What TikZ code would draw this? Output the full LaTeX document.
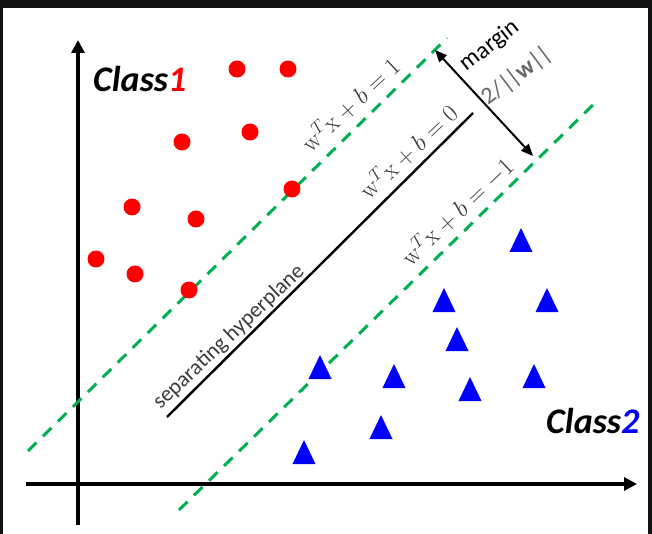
\documentclass[tikz,border=0pt]{standalone}
\usepackage{fontspec}
\setsansfont{Carlito}
\usetikzlibrary{arrows.meta}
\definecolor{dgreen}{RGB}{0,176,80}
\definecolor{dred}{RGB}{255,0,0}
\definecolor{dblue}{RGB}{0,0,255}
\definecolor{eqgrey}{RGB}{60,60,60}
\definecolor{frame}{RGB}{18,18,18}
\newcommand{\dbar}{|\kern-1.5pt|}
\tikzset{
  axis/.style={line width=3.2pt,-{Triangle[width=13pt,length=13pt]}},
  marginline/.style={dgreen,line width=3pt,dash pattern=on 12pt off 9pt},
  hyper/.style={black,line width=2.4pt},
  eqlabel/.style={eqgrey,font=\fontsize{25}{28}\selectfont,inner sep=0pt},
  sanslabel/.style={inner sep=0pt,font=\sffamily\fontsize{22}{24}\selectfont},
  classlabel/.style={inner sep=0pt,font=\sffamily\bfseries\itshape\fontsize{36}{40}\selectfont},
  reddot/.style={circle,fill=dred,minimum size=17pt,inner sep=0pt},
}
\begin{document}
\begin{tikzpicture}[x=1pt,y=-1pt]
\fill[frame] (0,0) rectangle (652,534);
\fill[white] (3,8) rectangle (648,534);
\useasboundingbox (0,0) rectangle (652,534);
% axes
\coordinate (yb) at (78,525); \coordinate (yt) at (78,40);
\coordinate (xl) at (26,484); \coordinate (xr) at (637,484);
\draw[axis] (yb) -- (yt);
\draw[axis] (xl) -- (xr);
% margin lines
\coordinate (u1) at (28,451); \coordinate (u2) at (447,38);
\coordinate (l1) at (179,510); \coordinate (l2) at (598,100);
\draw[marginline] (u1) -- (u2);
\draw[marginline] (l1) -- (l2);
% hyperplane
\coordinate (h1) at (167,417); \coordinate (h2) at (473,113);
\draw[hyper] (h1) -- (h2);
% margin arrow
\coordinate (m1) at (435,50); \coordinate (m2) at (533,156);
\draw[line width=2pt,{Triangle[width=10pt,length=12pt]}-{Triangle[width=10pt,length=12pt]}] (m1) -- (m2);
% red points
\foreach \x/\y [count=\i] in {237/69,288/69,182/142,250/132,292/189,132/207,196/219,96/259,135/274,189/290}
  \node[reddot] (r\i) at (\x,\y) {};
% blue triangles
\foreach \x/\y in {521/252,444/312,547/312,457/351,320/379,394/388,470/401,534/388,381/439,304/464}
  \fill[dblue] (\x-11.5,\y) -- (\x+11.5,\y) -- (\x,\y-24) -- cycle;
% labels
\node[classlabel,anchor=base west] (c1) at (93,92) {Class\textcolor{dred}{1}};
\node[classlabel,anchor=base west] (c2) at (546,433) {Class\textcolor{dblue}{2}};
\node[eqlabel,rotate=43] (e1) at (350,104) {$\mathrm{w}^T\mathrm{x}+b=1$};
\node[eqlabel,rotate=43.5] (e0) at (408,151) {$\mathrm{w}^T\mathrm{x}+b=0$};
\node[eqlabel,rotate=43.5] (em) at (457,211) {$\mathrm{w}^T\mathrm{x}+b=-1$};
\node[sanslabel,eqgrey,rotate=43.5] (sep) at (229,337) {separating hyperplane};
\node[sanslabel,black,rotate=38,font=\sffamily\fontsize{24}{26}\selectfont] (mg) at (490,46) {margin};
\node[sanslabel,black!60,rotate=37,font=\sffamily\fontsize{24}{26}\selectfont] (mw) at (517,76) {2/\dbar\textbf{w}\dbar};
\end{tikzpicture}
\end{document}
